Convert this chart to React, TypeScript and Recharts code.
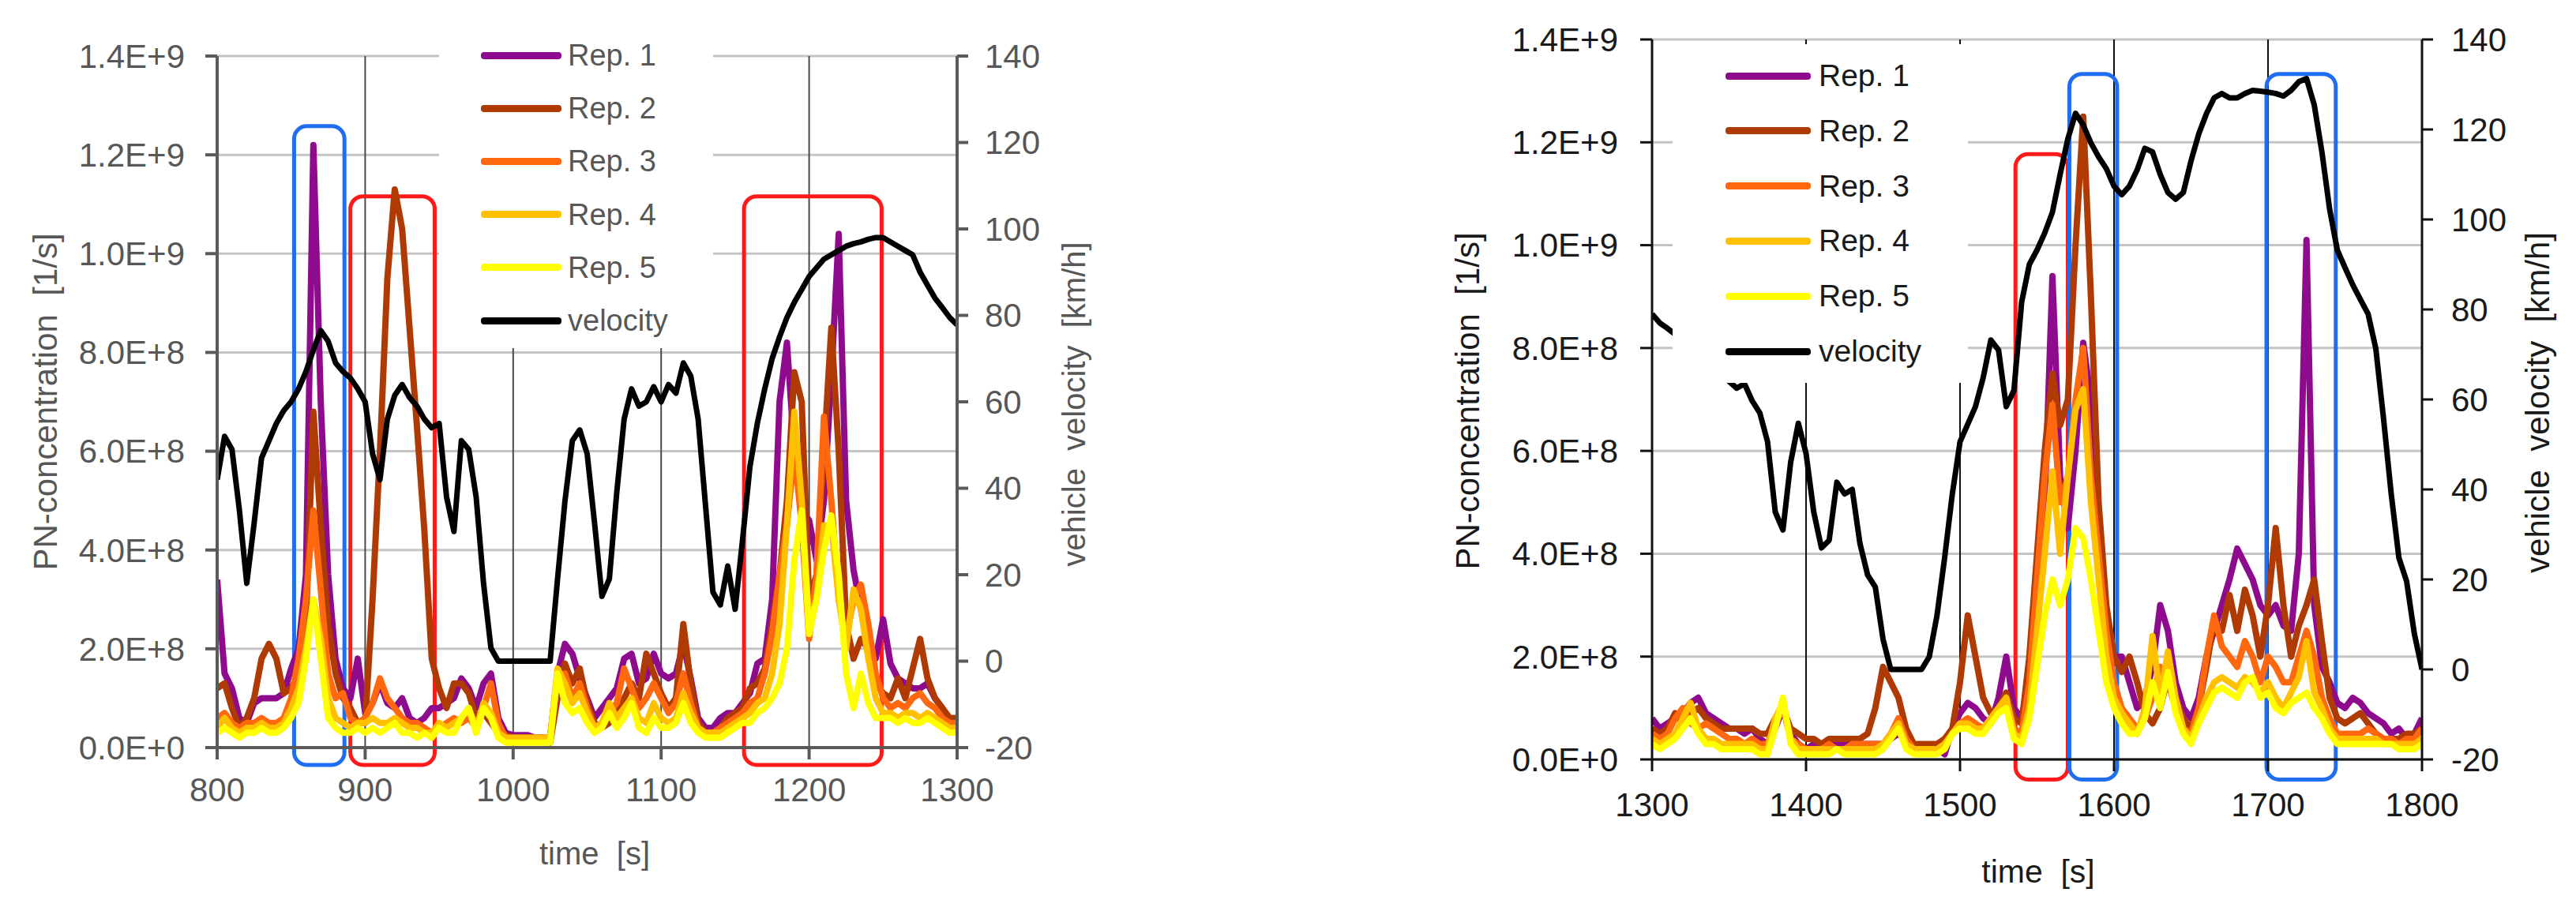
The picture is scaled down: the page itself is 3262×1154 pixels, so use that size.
import React from "react";
import { LineChart, Line, XAxis, YAxis, CartesianGrid, ReferenceArea, Legend } from "recharts";

// ---------- left panel (800-1300 s), PN in units of 1E+8 1/s ----------
const timeL = [
  800, 805, 810, 815, 820, 825, 830, 835, 840, 845,
  850, 855, 860, 865, 870, 875, 880, 885, 890, 895,
  900, 905, 910, 915, 920, 925, 930, 935, 940, 945,
  950, 955, 960, 965, 970, 975, 980, 985, 990, 995,
  1000, 1005, 1010, 1015, 1020, 1025, 1030, 1035, 1040, 1045,
  1050, 1055, 1060, 1065, 1070, 1075, 1080, 1085, 1090, 1095,
  1100, 1105, 1110, 1115, 1120, 1125, 1130, 1135, 1140, 1145,
  1150, 1155, 1160, 1165, 1170, 1175, 1180, 1185, 1190, 1195,
  1200, 1205, 1210, 1215, 1220, 1225, 1230, 1235, 1240, 1245,
  1250, 1255, 1260, 1265, 1270, 1275, 1280, 1285, 1290, 1295,
  1300,
];
const rep1L = [
  3.4, 1.5, 1.2, 0.6, 0.5, 0.9, 1.0, 1.0, 1.0, 1.1,
  1.6, 2.0, 3.5, 12.2, 7.0, 3.5, 1.8, 1.2, 1.0, 1.8,
  0.7, 0.9, 1.3, 0.9, 0.8, 1.0, 0.6, 0.5, 0.6, 0.8,
  0.8, 0.9, 1.0, 1.4, 1.2, 0.8, 1.3, 1.5, 0.6, 0.3,
  0.25, 0.25, 0.25, 0.2, 0.2, 0.2, 1.5, 2.1, 1.9, 1.4,
  1.0, 0.6, 0.8, 1.0, 1.2, 1.8, 1.9, 1.3, 1.4, 1.9,
  1.5, 1.4, 1.5, 2.1, 1.4, 0.6, 0.4, 0.4, 0.6, 0.7,
  0.7, 0.9, 1.1, 1.7, 1.8, 3.0, 7.0, 8.2, 6.0, 4.8,
  4.6, 3.8, 5.0, 7.5, 10.4, 5.0, 3.6, 2.8, 2.0, 1.8,
  2.6, 1.7, 1.4, 1.3, 1.2, 1.2, 1.3, 1.0, 0.8, 0.5,
  0.6,
];
const rep2L = [
  1.2, 1.3, 0.8, 0.4, 0.6, 1.0, 1.8, 2.1, 1.8, 1.1,
  1.2, 1.5, 2.5, 6.8, 4.5, 2.5, 1.5, 1.0, 0.8, 0.5,
  0.5, 3.0, 6.0, 9.5, 11.3, 10.5, 8.5, 6.5, 4.4, 1.8,
  1.2, 0.8, 1.3, 1.3, 1.1, 0.6, 0.7, 0.5, 0.3, 0.25,
  0.2, 0.2, 0.2, 0.2, 0.2, 0.1, 1.0, 1.7, 1.3, 1.6,
  0.9, 0.5, 0.4, 0.5, 0.7, 1.0, 1.3, 1.0, 1.9, 1.5,
  1.1, 0.8, 1.0, 2.5, 1.3, 0.5, 0.3, 0.3, 0.4, 0.6,
  0.7, 0.8, 1.2, 1.3, 1.6, 2.5, 3.5, 5.0, 7.6, 7.0,
  3.0, 3.5, 6.0, 8.5, 6.0, 2.5, 1.8, 2.2, 2.0, 1.3,
  1.1, 1.0, 1.4, 1.0, 1.6, 2.2, 1.4, 1.0, 0.8, 0.6,
  0.6,
];
const rep3L = [
  0.6, 0.7, 0.5, 0.4, 0.5, 0.5, 0.6, 0.5, 0.5, 0.6,
  1.0, 1.8, 3.0, 4.8, 3.2, 1.5, 1.0, 1.1, 0.6, 0.5,
  0.6, 0.9, 1.4, 1.0, 0.8, 0.6, 0.5, 0.5, 0.4, 0.3,
  0.4, 0.5, 0.6, 0.5, 0.6, 0.4, 0.8, 1.3, 0.5, 0.2,
  0.2, 0.2, 0.2, 0.2, 0.2, 0.2, 1.4, 1.5, 1.0, 1.3,
  0.8, 0.4, 0.5, 0.7, 0.9, 1.6, 1.2, 0.8, 1.0, 1.3,
  1.0, 0.7, 0.9, 1.5, 0.9, 0.4, 0.3, 0.3, 0.4, 0.5,
  0.6, 0.7, 0.9, 1.0, 1.5, 2.3, 3.5, 4.5, 6.0, 4.5,
  2.2, 3.5, 6.7, 5.0, 3.0, 2.2, 3.0, 3.3, 2.5, 1.5,
  1.0, 0.8, 0.9, 0.8, 1.0, 1.1, 0.9, 0.8, 0.6, 0.5,
  0.5,
];
const rep4L = [
  0.4, 0.6, 0.4, 0.3, 0.4, 0.4, 0.5, 0.4, 0.4, 0.5,
  0.8, 1.2, 2.0, 3.0, 2.2, 1.0, 0.6, 0.5, 0.4, 0.5,
  0.5, 0.6, 0.5, 0.5, 0.6, 0.5, 0.4, 0.4, 0.3, 0.3,
  0.5, 0.4, 0.5, 0.6, 0.8, 0.4, 0.9, 0.7, 0.3, 0.2,
  0.2, 0.2, 0.2, 0.2, 0.2, 0.2, 1.6, 1.3, 0.9, 1.1,
  0.7, 0.4, 0.5, 0.9, 0.6, 0.8, 1.0, 0.6, 0.5, 0.9,
  0.6, 0.5, 0.6, 1.1, 0.7, 0.4, 0.3, 0.3, 0.3, 0.4,
  0.5, 0.6, 0.7, 0.9, 1.0, 1.5, 2.5, 4.5, 6.8, 5.0,
  2.5, 3.0, 4.5, 4.5, 3.0, 2.0, 3.2, 2.8, 1.8, 1.0,
  0.7, 0.7, 0.6, 0.7, 0.7, 0.6, 0.7, 0.6, 0.5, 0.4,
  0.4,
];
const rep5L = [
  0.3, 0.4, 0.3, 0.2, 0.3, 0.3, 0.4, 0.3, 0.3, 0.4,
  0.6, 0.9, 1.8, 3.0, 1.8, 0.6, 0.4, 0.3, 0.3, 0.4,
  0.3, 0.4, 0.3, 0.4, 0.5, 0.3, 0.3, 0.2, 0.3, 0.2,
  0.4, 0.3, 0.3, 0.6, 0.8, 0.3, 0.8, 0.6, 0.2, 0.1,
  0.1, 0.1, 0.1, 0.1, 0.1, 0.1, 1.5, 0.9, 0.7, 0.8,
  0.5, 0.3, 0.4, 0.7, 0.4, 0.6, 0.9, 0.4, 0.3, 0.6,
  0.4, 0.4, 0.5, 0.9, 0.5, 0.3, 0.2, 0.2, 0.2, 0.3,
  0.4, 0.5, 0.5, 0.7, 0.8, 1.0, 1.3, 2.0, 3.8, 4.8,
  2.3, 3.0, 4.0, 4.7, 3.5, 1.5, 0.8, 1.5, 0.9, 0.6,
  0.6, 0.6, 0.5, 0.6, 0.5, 0.5, 0.6, 0.5, 0.4, 0.3,
  0.3,
];
const velL = [
  42, 52, 49, 35, 18, 32, 47, 51, 55, 58,
  60, 63, 67, 72, 76.5, 74, 69, 67, 65.5, 63,
  60, 48, 42, 56, 61.5, 64, 61, 59, 56, 54,
  55, 38, 30, 51, 49, 38, 18, 3, 0, 0,
  0, 0, 0, 0, 0, 0, 19, 37, 51, 53.5,
  48, 32, 15, 19, 39, 56, 63, 59, 60, 63.5,
  60, 64, 62, 69, 66, 56, 36, 16, 13, 22,
  12, 28, 45, 55, 63, 70, 75, 79.5, 83, 86,
  89, 91, 93, 94, 95, 96, 96.6, 97, 97.6, 98,
  98, 97, 96, 95, 94, 90, 87, 84, 81.8, 79.5,
  77.8,
];

// ---------- right panel (1300-1800 s) ----------
const timeR = [
  1300, 1305, 1310, 1315, 1320, 1325, 1330, 1335, 1340, 1345,
  1350, 1355, 1360, 1365, 1370, 1375, 1380, 1385, 1390, 1395,
  1400, 1405, 1410, 1415, 1420, 1425, 1430, 1435, 1440, 1445,
  1450, 1455, 1460, 1465, 1470, 1475, 1480, 1485, 1490, 1495,
  1500, 1505, 1510, 1515, 1520, 1525, 1530, 1535, 1540, 1545,
  1550, 1555, 1560, 1565, 1570, 1575, 1580, 1585, 1590, 1595,
  1600, 1605, 1610, 1615, 1620, 1625, 1630, 1635, 1640, 1645,
  1650, 1655, 1660, 1665, 1670, 1675, 1680, 1685, 1690, 1695,
  1700, 1705, 1710, 1715, 1720, 1725, 1730, 1735, 1740, 1745,
  1750, 1755, 1760, 1765, 1770, 1775, 1780, 1785, 1790, 1795,
  1800,
];
const rep1R = [
  0.8, 0.6, 0.7, 0.8, 0.9, 1.1, 1.2, 0.9, 0.8, 0.7,
  0.6, 0.6, 0.5, 0.6, 0.4, 0.3, 0.6, 1.0, 0.5, 0.3,
  0.2, 0.3, 0.3, 0.3, 0.3, 0.3, 0.3, 0.3, 0.3, 0.3,
  0.3, 0.4, 0.5, 0.4, 0.3, 0.2, 0.2, 0.2, 0.1, 0.6,
  0.9, 1.1, 1.0, 0.8, 0.7, 1.2, 2.0, 1.0, 0.8, 1.5,
  3.0, 5.0, 9.4, 5.5, 4.5, 6.0, 8.1, 7.0, 4.5, 2.8,
  2.0, 2.0, 1.5, 1.0, 1.2, 1.8, 3.0, 2.5, 1.5, 1.0,
  0.8, 1.2, 2.0, 2.5, 3.0, 3.5, 4.1, 3.8, 3.5, 3.0,
  2.8, 3.0, 2.6, 2.5, 4.0, 10.1, 3.0, 1.8, 1.5, 1.1,
  1.0, 1.2, 1.1, 0.9, 0.8, 0.7, 0.5, 0.6, 0.4, 0.5,
  0.8,
];
const rep2R = [
  0.6, 0.5, 0.6, 0.9, 0.7, 0.9, 1.0, 0.8, 0.7, 0.6,
  0.6, 0.6, 0.6, 0.6, 0.5, 0.5, 0.8, 1.0, 0.6, 0.5,
  0.4, 0.4, 0.3, 0.4, 0.4, 0.4, 0.4, 0.4, 0.5, 1.0,
  1.8, 1.5, 1.2, 0.6, 0.3, 0.3, 0.3, 0.3, 0.4, 0.6,
  1.5, 2.8, 2.0, 1.2, 0.9, 1.0, 1.3, 0.8, 0.7, 2.0,
  4.0, 6.0, 7.5, 6.5, 7.0, 10.0, 12.5, 9.0, 5.0, 3.0,
  2.0, 1.7, 2.0, 1.5, 0.9, 0.7, 1.0, 1.6, 1.2, 0.8,
  0.6, 1.0, 1.8, 2.7, 2.5, 3.2, 2.5, 3.3, 2.8, 2.0,
  3.0, 4.5, 3.0, 2.0, 2.6, 3.0, 3.5, 2.3, 1.2, 0.8,
  0.7, 0.8, 0.9, 0.7, 0.5, 0.4, 0.4, 0.4, 0.5, 0.5,
  0.6,
];
const rep3R = [
  0.5, 0.4, 0.5, 0.8, 1.0, 0.7, 0.6, 0.7, 0.6, 0.5,
  0.4, 0.4, 0.3, 0.4, 0.3, 0.3, 0.7, 1.0, 0.4, 0.3,
  0.2, 0.2, 0.2, 0.3, 0.2, 0.2, 0.3, 0.3, 0.3, 0.3,
  0.3, 0.5, 0.8, 0.4, 0.2, 0.2, 0.2, 0.2, 0.3, 0.5,
  0.7, 0.8, 0.7, 0.6, 0.8, 1.0, 1.2, 0.6, 0.5, 1.5,
  3.5, 5.5, 6.9, 5.0, 5.5, 7.0, 8.0, 5.5, 4.0, 2.5,
  1.5, 1.0, 0.8, 0.6, 0.8, 1.2, 1.8, 1.5, 1.0, 0.6,
  0.5, 1.0, 2.0, 2.8, 2.2, 2.0, 1.8, 2.3, 2.0, 1.5,
  2.0, 1.8, 1.5, 1.5, 2.0, 2.5, 2.0, 1.2, 0.8, 0.5,
  0.5, 0.5, 0.5, 0.6, 0.5, 0.4, 0.4, 0.3, 0.4, 0.4,
  0.6,
];
const rep4R = [
  0.4, 0.3, 0.4, 0.5, 0.8, 1.1, 0.6, 0.4, 0.4, 0.3,
  0.3, 0.3, 0.3, 0.3, 0.2, 0.2, 0.8, 1.1, 0.4, 0.2,
  0.2, 0.2, 0.2, 0.2, 0.2, 0.2, 0.2, 0.2, 0.2, 0.2,
  0.3, 0.5, 0.7, 0.3, 0.2, 0.2, 0.2, 0.2, 0.3, 0.5,
  0.7, 0.7, 0.6, 0.6, 0.8, 1.0, 1.2, 0.5, 0.4, 1.0,
  2.5, 4.0, 5.6, 4.0, 5.5, 6.8, 7.2, 5.0, 3.5, 2.0,
  1.2, 0.9, 0.7, 0.5, 1.0, 2.4, 1.2, 2.1, 1.2, 0.6,
  0.4, 0.8, 1.2, 1.5, 1.6, 1.5, 1.4, 1.6, 1.5, 1.3,
  1.5, 1.2, 1.0, 1.3, 1.6, 2.3, 1.3, 1.0, 0.6, 0.4,
  0.4, 0.4, 0.4, 0.4, 0.4, 0.3, 0.3, 0.3, 0.3, 0.3,
  0.4,
];
const rep5R = [
  0.3, 0.2, 0.3, 0.4, 0.6, 0.8, 0.5, 0.3, 0.3, 0.2,
  0.2, 0.2, 0.2, 0.2, 0.1, 0.1, 0.6, 1.2, 0.3, 0.1,
  0.1, 0.1, 0.1, 0.1, 0.2, 0.1, 0.1, 0.1, 0.1, 0.1,
  0.2, 0.4, 0.6, 0.2, 0.1, 0.1, 0.1, 0.1, 0.2, 0.5,
  0.6, 0.6, 0.5, 0.5, 0.7, 0.9, 1.0, 0.4, 0.3, 0.8,
  1.8, 2.8, 3.5, 3.0, 3.5, 4.5, 4.3, 3.5, 2.5, 1.5,
  1.0, 0.7, 0.5, 0.5, 0.8, 1.5, 1.0, 1.7, 0.9, 0.5,
  0.3, 0.7, 1.0, 1.3, 1.4, 1.3, 1.2, 1.5, 1.6, 1.2,
  1.3, 1.0, 0.9, 1.1, 1.2, 1.3, 1.0, 0.8, 0.5, 0.3,
  0.3, 0.3, 0.3, 0.3, 0.3, 0.3, 0.3, 0.2, 0.2, 0.2,
  0.3,
];
const velR = [
  79, 77, 75.8, 74.5, 73, 71.5, 70, 68.5, 67, 65.5,
  64, 62.5, 63.5, 59.7, 57, 50.6, 35, 31, 46, 54.7,
  48, 35, 27, 28.7, 41.6, 39, 40, 28, 21, 18.3,
  6.7, 0, 0, 0, 0, 0, 2.8, 11.9, 24.8, 39,
  50.6, 54.5, 58.4, 64.8, 73.2, 71, 58.4, 62, 81.6, 90,
  93.2, 97, 101.6, 110, 117.9, 123.6, 121, 117, 113.9, 111.3,
  107.4, 105.5, 107.4, 111, 115.8, 115, 110, 106, 104.5, 106,
  113, 119, 123.5, 127, 128, 127, 127, 128, 128.7, 128.5,
  128.3, 128, 127.4, 128.7, 130.6, 131.3, 125.5, 115, 102.3, 93.2,
  89.3, 85.5, 82.2, 79, 71.3, 55.8, 39, 24.8, 19.6, 8,
  0,
];

// highlight boxes: time range and PN range (1E+8)
const boxesL = [
  { x1: 852, x2: 886, y1: -0.35, y2: 12.58, kind: "blue" },
  { x1: 890, x2: 947, y1: -0.35, y2: 11.16, kind: "red" },
  { x1: 1156, x2: 1249, y1: -0.35, y2: 11.16, kind: "red" },
];
const boxesR = [
  { x1: 1536, x2: 1570, y1: -0.39, y2: 11.77, kind: "red" },
  { x1: 1571, x2: 1602, y1: -0.39, y2: 13.33, kind: "blue" },
  { x1: 1699, x2: 1744, y1: -0.39, y2: 13.33, kind: "blue" },
];

const seriesKeys = ["r1", "r2", "r3", "r4", "r5"];
const seriesNames = ["Rep. 1", "Rep. 2", "Rep. 3", "Rep. 4", "Rep. 5"];
const seriesColors = ["#8f0b8d", "#b03a04", "#ff680e", "#ffc000", "#ffff00"];
const pnTicks = [0, 2, 4, 6, 8, 10, 12, 14];
const velTicks = [-20, 0, 20, 40, 60, 80, 100, 120, 140];
const timeTicksL = [800, 900, 1000, 1100, 1200, 1300];
const timeTicksR = [1300, 1400, 1500, 1600, 1700, 1800];

const boxColor: Record<string, string> = { blue: "#1f6ef2", red: "#ff1a1a" };
const FONT = '"Liberation Sans", Arial, sans-serif';

function buildRows(time: number[], reps: number[][], vel: number[]) {
  return time.map((t, i) => ({
    t,
    r1: reps[0][i],
    r2: reps[1][i],
    r3: reps[2][i],
    r4: reps[3][i],
    r5: reps[4][i],
    v: vel[i],
  }));
}

const rowsL = buildRows(timeL, [rep1L, rep2L, rep3L, rep4L, rep5L], velL);
const rowsR = buildRows(timeR, [rep1R, rep2R, rep3R, rep4R, rep5R], velR);

// value is in 1E+8 units
const fmtPN = (v: number) => {
  if (v === 0) return "0.0E+0";
  const real = v * 1e8;
  const exp = Math.floor(Math.log10(real) + 1e-9);
  return `${(real / Math.pow(10, exp)).toFixed(1)}E+${exp}`;
};

type LegendCfg = { left: number; top: number; w: number; h: number; sampleX: number; sampleW: number; gap: number; firstRow: number; rowGap: number; fontSize: number };

function LegendBox({ payload, cfg, color }: { payload?: any[]; cfg: LegendCfg; color: string }) {
  return (
    <div style={{ position: "relative", width: cfg.w, height: cfg.h, background: "#fff" }}>
      {(payload || []).map((e, i) => (
        <div
          key={i}
          style={{ position: "absolute", left: cfg.sampleX, top: cfg.firstRow + i * cfg.rowGap - 25, height: 50, display: "flex", alignItems: "center", whiteSpace: "nowrap" }}
        >
          <div style={{ width: cfg.sampleW, height: 9, background: e.color, borderRadius: 4 }} />
          <span style={{ marginLeft: cfg.gap, fontSize: cfg.fontSize, color, fontFamily: FONT, lineHeight: "50px" }}>{e.value}</span>
        </div>
      ))}
    </div>
  );
}

type PanelProps = {
  rows: any[];
  boxes: typeof boxesL;
  width: number;
  height: number;
  margin: { top: number; right: number; bottom: number; left: number };
  xDomain: [number, number];
  xTicks: number[];
  ink: string;
  axisColor: string;
  axisWidth: number;
  vGrid: string;
  legend: LegendCfg;
  xTickMargin: number;
  yLeftMargin: number;
  yRightMargin: number;
};

function Panel(p: PanelProps) {
  const tick = { fill: p.ink, fontSize: 42, fontFamily: FONT };
  const axisLine = { stroke: p.axisColor, strokeWidth: p.axisWidth };
  return (
    <LineChart width={p.width} height={p.height} data={p.rows} margin={p.margin}>
      <CartesianGrid yAxisId="pn" vertical={false} stroke="#c4c4c4" strokeWidth={3} />
      <CartesianGrid yAxisId="pn" horizontal={false} stroke={p.vGrid} strokeWidth={2} />
      <XAxis
        type="number"
        dataKey="t"
        domain={p.xDomain}
        ticks={p.xTicks}
        allowDataOverflow
        height={60}
        tick={tick}
        tickSize={15}
        tickMargin={p.xTickMargin}
        axisLine={axisLine}
        tickLine={axisLine}
      />
      <YAxis
        yAxisId="pn"
        domain={[0, 14]}
        ticks={pnTicks}
        allowDataOverflow
        width={160}
        tick={tick}
        tickFormatter={fmtPN}
        tickSize={15}
        tickMargin={p.yLeftMargin}
        axisLine={axisLine}
        tickLine={axisLine}
      />
      <YAxis
        yAxisId="v"
        orientation="right"
        domain={[-20, 140]}
        ticks={velTicks}
        allowDataOverflow
        width={150}
        tick={tick}
        tickSize={14}
        tickMargin={p.yRightMargin}
        axisLine={axisLine}
        tickLine={axisLine}
      />
      {seriesKeys.map((k, i) => (
        <Line
          key={k}
          yAxisId="pn"
          type="linear"
          dataKey={k}
          name={seriesNames[i]}
          stroke={seriesColors[i]}
          strokeWidth={8}
          strokeLinejoin="round"
          dot={false}
          isAnimationActive={false}
        />
      ))}
      <Line
        yAxisId="v"
        type="linear"
        dataKey="v"
        name="velocity"
        stroke="#000"
        strokeWidth={7}
        strokeLinejoin="round"
        dot={false}
        isAnimationActive={false}
      />
      {p.boxes.map((b, i) => (
        <ReferenceArea
          key={i}
          yAxisId="pn"
          x1={b.x1}
          x2={b.x2}
          y1={b.y1}
          y2={b.y2}
          ifOverflow="visible"
          fill="none"
          fillOpacity={0}
          stroke={boxColor[b.kind]}
          strokeWidth={5}
          radius={16}
        />
      ))}
      <Legend
        layout="vertical"
        align="center"
        verticalAlign="middle"
        width={p.legend.w}
        height={p.legend.h}
        wrapperStyle={{ left: p.legend.left, top: p.legend.top, width: p.legend.w, height: p.legend.h, margin: 0, padding: 0 }}
        content={(props: any) => <LegendBox payload={props.payload} cfg={p.legend} color={p.ink} />}
      />
    </LineChart>
  );
}

function Title({ text, cx, cy, rotate, size, color }: { text: string; cx: number; cy: number; rotate?: boolean; size: number; color: string }) {
  return (
    <div
      style={{
        position: "absolute",
        left: cx,
        top: cy,
        transform: `translate(-50%, -50%)${rotate ? " rotate(-90deg)" : ""}`,
        whiteSpace: "pre",
        fontFamily: FONT,
        fontSize: size,
        color,
        lineHeight: 1,
      }}
    >
      {text}
    </div>
  );
}

export default function App() {
  const greyInk = "#575757";
  const darkInk = "#1a1a1a";
  return (
    <div style={{ position: "absolute", left: 0, top: 0, width: 3262, height: 1154, background: "#fff", overflow: "hidden" }}>
      <div style={{ position: "absolute", left: 0, top: 0 }}>
        <Panel
          rows={rowsL}
          boxes={boxesL}
          width={1450}
          height={1154}
          margin={{ top: 71, right: 88, bottom: 147, left: 115 }}
          xDomain={[800, 1300]}
          xTicks={timeTicksL}
          ink={greyInk}
          axisColor="#5a5a5a"
          axisWidth={4}
          vGrid="#4a4a4a"
          xTickMargin={23}
          yLeftMargin={26}
          yRightMargin={21}
          legend={{ left: 556, top: 45, w: 347, h: 396, sampleX: 53, sampleW: 102, gap: 8, firstRow: 25, rowGap: 67.2, fontSize: 38 }}
        />
      </div>
      <div style={{ position: "absolute", left: 1700, top: 0 }}>
        <Panel
          rows={rowsR}
          boxes={boxesR}
          width={1562}
          height={1154}
          margin={{ top: 50, right: 45, bottom: 132, left: 232 }}
          xDomain={[1300, 1800]}
          xTicks={timeTicksR}
          ink={darkInk}
          axisColor="#111"
          axisWidth={3}
          vGrid="#111"
          xTickMargin={27}
          yLeftMargin={28}
          yRightMargin={23}
          legend={{ left: 418, top: 56, w: 374, h: 429, sampleX: 67, sampleW: 108, gap: 10, firstRow: 40, rowGap: 69.8, fontSize: 39 }}
        />
      </div>
      <Title text="PN-concentration  [1/s]" cx={58} cy={509} rotate size={42} color={greyInk} />
      <Title text="vehicle  velocity  [km/h]" cx={1360} cy={512} rotate size={40} color={greyInk} />
      <Title text="time  [s]" cx={753} cy={1081} size={40} color={greyInk} />
      <Title text="PN-concentration  [1/s]" cx={1859} cy={508} rotate size={42} color={darkInk} />
      <Title text="vehicle  velocity  [km/h]" cx={3214} cy={510} rotate size={42} color={darkInk} />
      <Title text="time  [s]" cx={2581} cy={1104} size={41} color={darkInk} />
    </div>
  );
}
